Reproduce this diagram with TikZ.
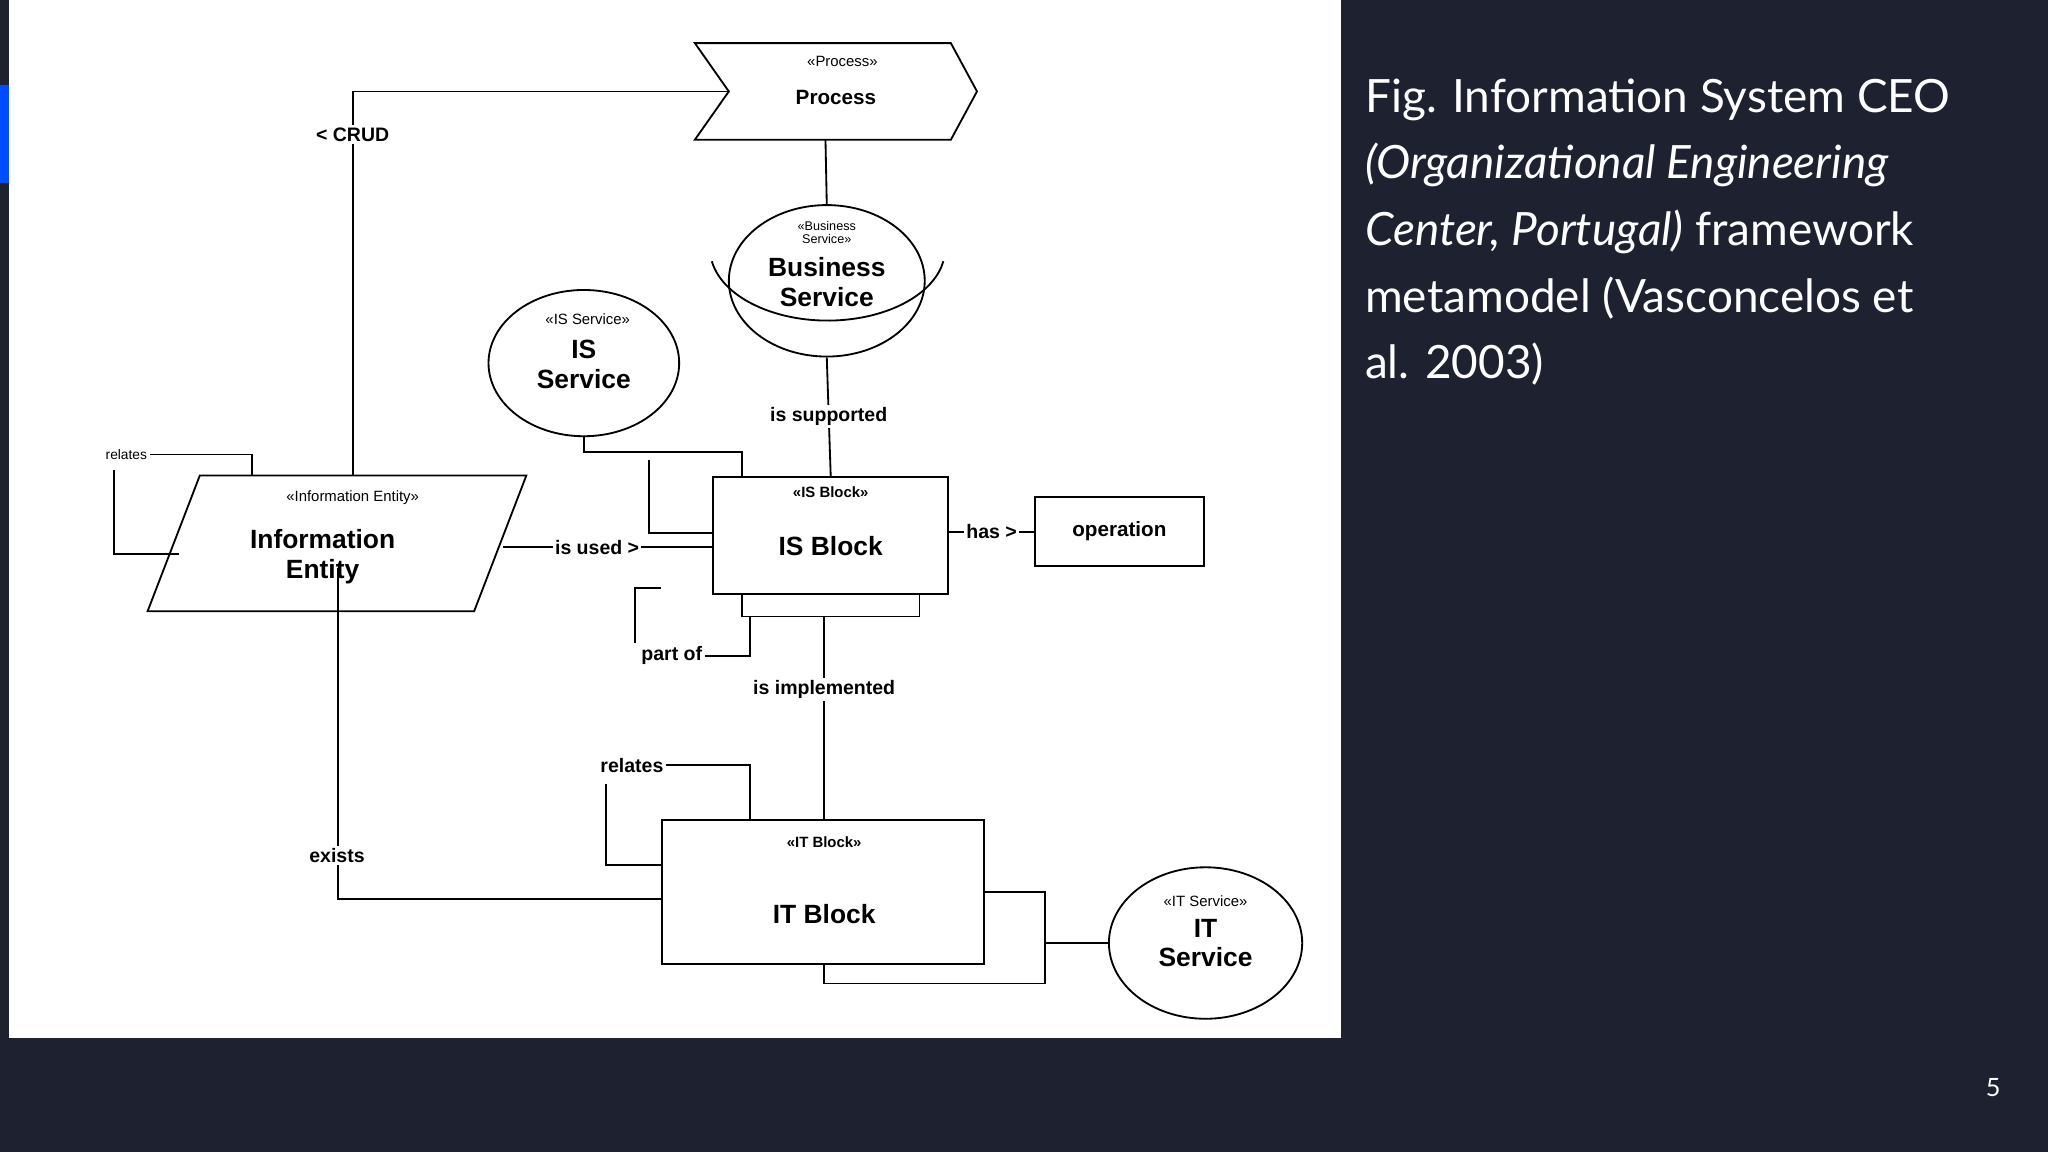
\documentclass[tikz,border=0pt]{standalone}
\usepackage{fontspec}
\setmainfont{Lato}
\newfontfamily\diag{Liberation Sans}
\usetikzlibrary{positioning,shapes.geometric}
\definecolor{slidebg}{HTML}{1D2130}
\begin{document}
\begin{tikzpicture}[x=0.02cm,y=-0.02cm,
    every node/.style={font=\diag\bfseries\fontsize{9}{10}\selectfont},
    ster/.style={font=\diag\fontsize{6.5}{7}\selectfont},
    big/.style={font=\diag\bfseries\fontsize{11.5}{13}\selectfont, align=center},
    lbl/.style={font=\diag\bfseries\fontsize{8.5}{9}\selectfont, fill=white, inner sep=1pt},
    circ/.style={draw, thick, ellipse},
    line/.style={draw, thick},
    figtext/.style={text=white, anchor=base west, font=\fontsize{20}{24}\selectfont}]
    \fill[slidebg] (0,0) rectangle (1568,882);
    \useasboundingbox (0,0) rectangle (1568,882);
    \fill[white] (7,0) rectangle (1027,795);
    \fill[blue!70!cyan] (0,65) rectangle (7,140);

    % Process
    \draw[line] (532,33) -- (728,33) -- (748,70) -- (728,107) -- (532,107) -- (558,70) -- cycle;
    \coordinate (proc) at (632,107);
    \coordinate (procin) at (558,70);
    \node[ster] at (645,47) {«Process»};
    \node at (640,75) {Process};

    % Business Service
    \node (bs) [circ, inner sep=0pt, minimum width=3cm, minimum height=2.32cm] at (633,215) {};
    \node[ster, align=center, font=\diag\fontsize{5.5}{6}\selectfont] at (633,178) {«Business\\Service»};
    \node[big] at (633,216) {Business\\Service};
    \draw[line] (545,200) arc[start angle=170, end angle=10, x radius=90, y radius=55];

    % IS Service
    \node (iss) [circ, minimum width=2.92cm, minimum height=2.24cm] at (447,278) {};
    \node[ster] at (450,244) {«IS Service»};
    \node[big] at (447,279) {IS\\Service};

    % IS Block
    \node (isb) [draw, thick, minimum width=3.6cm, minimum height=1.8cm] at (636,410) {};
    \draw[line] (568,455) -- (568,472) -- (704,472) -- (704,455);
    \node[ster, font=\diag\bfseries\fontsize{6.5}{7}\selectfont] at (636,377) {«IS Block»};
    \node[big] at (636,418) {IS Block};

    % operation
    \node (op) [draw, thick, minimum width=2.58cm, minimum height=1.06cm] at (857,407) {operation};

    % Information Entity
    \draw[line] (153,364) -- (403,364) -- (363,468) -- (113,468) -- cycle;
    \coordinate (ie) at (270,364);
    \node[ster] at (270,381) {«Information Entity»};
    \node[big] at (247,426) {Information\\Entity};

    % IT Block
    \node (itb) [draw, thick, minimum width=4.94cm, minimum height=2.2cm] at (630,683) {};
    \draw[line] (754,683) -- (800,683) -- (800,753) -- (631,753) -- (631,738);
    \node[ster, font=\diag\bfseries\fontsize{6.5}{7}\selectfont] at (631,645) {«IT Block»};
    \node[big] at (631,700) {IT Block};

    % IT Service
    \node (its) [circ, minimum width=2.96cm, minimum height=2.32cm] at (923,722) {};
    \node[ster] at (923,690) {«IT Service»};
    \node[big] at (923,722) {IT\\Service};

    % Connectors
    \draw[line] (proc) -- (bs.north);
    \draw[line] (bs.south) -- (isb.north) node[lbl, pos=.5] {is supported};
    \draw[line] (iss.south) |- (568,346) -- (568,365);
    \draw[line] (497,352) |- (isb.west |- 0,408);
    \draw[line] (486,492) |- (506,450);
    \draw[line] (540,502) -| (574,472) node[lbl, pos=0, anchor=east] {part of};
    \draw[line] (isb.east |- op) -- (op.west) node[lbl, midway] {has >};
    \draw[line] (385,419) -- (isb.west |- 0,419) node[lbl, pos=.45] {is used >};
    \draw[line] (193,364) |- (115,348) node[lbl, anchor=east, font=\diag\fontsize{6}{7}\selectfont] {relates};
    \draw[line] (87,360) |- (137,424);
    \draw[line] (ie) |- (procin);
    \node[lbl] at (270,103) {< CRUD};
    \draw[line] (259,435) |- (itb.west |- 0,688);
    \node[lbl] at (258,655) {exists};
    \draw[line] (631,472) -- (itb.north -| 631,0) node[lbl, pos=.36] {is implemented};
    \draw[line] (510,586) -| (574,628);
    \node[lbl, anchor=east] at (510,586) {relates};
    \draw[line] (464,600) |- (itb.west |- 0,662);
    \draw[line] (800,722) -- (its.west);

    % Caption
    \node[figtext] at (1039,86) {Fig. Information System CEO};
    \node[figtext] at (1039,137) {\itshape (Organizational Engineering};
    \node[figtext] at (1039,188) {\textit{Center, Portugal)} framework};
    \node[figtext] at (1039,239) {metamodel (Vasconcelos et};
    \node[figtext] at (1039,290) {al. 2003)};
    \node[text=white, font=\fontsize{11}{12}\selectfont] at (1526,833) {5};
\end{tikzpicture}
\end{document}
